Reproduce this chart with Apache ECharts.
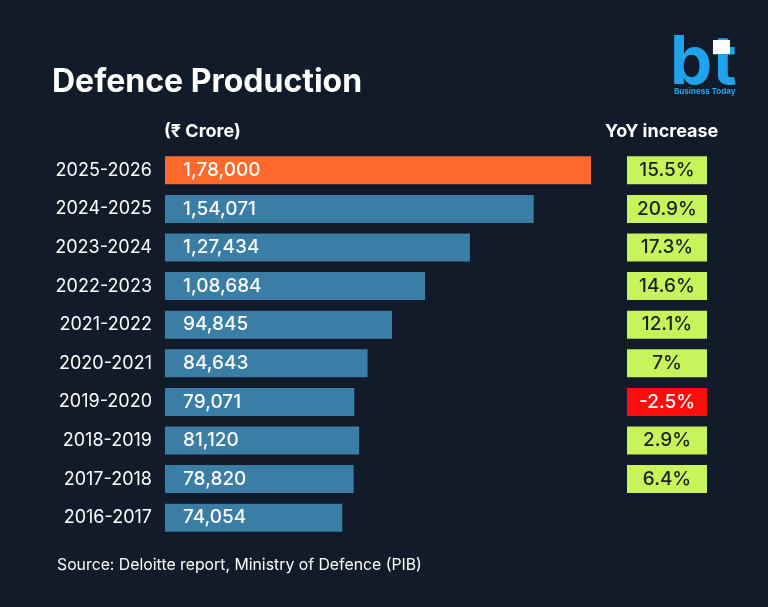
<!DOCTYPE html>
<html>
<head>
<meta charset="utf-8">
<script src="https://cdn.jsdelivr.net/npm/echarts@6/dist/echarts.min.js"></script>
<style>
  html, body { margin: 0; padding: 0; background: #111b29; }
  #chart { width: 768px; height: 607px; }
</style>
</head>
<body>
<div id="chart"></div>
<script>
const years = ["2025-2026", "2024-2025", "2023-2024", "2022-2023", "2021-2022",
               "2020-2021", "2019-2020", "2018-2019", "2017-2018", "2016-2017"]
const production = [178000, 154071, 127434, 108684, 94845, 84643, 79071, 81120, 78820, 74054]
const yoy = [15.5, 20.9, 17.3, 14.6, 12.1, 7, -2.5, 2.9, 6.4, null]

const FONT = "Inter, 'Noto Sans', sans-serif"

// Indian digit grouping: 1,78,000
function inr(n) {
    const s = String(n)
    if (s.length <= 3) return s
    const last3 = s.slice(-3)
    let rest = s.slice(0, -3)
    const parts = []
    while (rest.length > 2) {
        parts.unshift(rest.slice(-2))
        rest = rest.slice(0, -2)
    }
    if (rest) parts.unshift(rest)
    return parts.join(",") + "," + last3
}

const chart = echarts.init(document.getElementById("chart"))

const option = {
    backgroundColor: "#111b29",
    animation: false,
    textStyle: { fontFamily: FONT },
    grid: [
        { left: 165, right: 177, top: 151, height: 386 },
        { left: 627, width: 80, top: 151, height: 386 }
    ],
    xAxis: [
        { gridIndex: 0, type: "value", min: 0, max: 178000, show: false },
        { gridIndex: 1, type: "value", min: 0, max: 1, show: false }
    ],
    yAxis: [
        {
            gridIndex: 0,
            type: "category",
            inverse: true,
            data: years,
            axisLine: { show: false },
            axisTick: { show: false },
            axisLabel: { color: "#ffffff", fontSize: 18, margin: 13, fontFamily: FONT }
        },
        {
            gridIndex: 1,
            type: "category",
            inverse: true,
            data: years,
            show: false
        }
    ],
    series: [
        {
            type: "bar",
            xAxisIndex: 0,
            yAxisIndex: 0,
            barWidth: 28,
            data: production.map((v, i) => ({
                value: v,
                itemStyle: { color: i === 0 ? "#fe6a2c" : "#3a7ea6" }
            })),
            label: {
                show: true,
                position: "insideLeft",
                distance: 18,
                color: "#ffffff",
                fontSize: 19,
                fontWeight: 500,
                fontFamily: FONT,
                formatter: (p) => inr(p.value)
            }
        },
        {
            type: "bar",
            xAxisIndex: 1,
            yAxisIndex: 1,
            barWidth: 28,
            data: yoy.map((v) => v === null ? null : ({
                value: 1,
                itemStyle: { color: v < 0 ? "#ff0d0d" : "#c6f45a" },
                label: { color: v < 0 ? "#ffffff" : "#18202a" }
            })),
            label: {
                show: true,
                position: "inside",
                fontSize: 19,
                fontWeight: 500,
                fontFamily: FONT,
                formatter: (p) => yoy[p.dataIndex] + "%"
            }
        }
    ],
    graphic: [
        {
            type: "text", left: 52, top: 66,
            style: { text: "Defence Production", fill: "#ffffff", font: "bold 32px " + FONT }
        },
        {
            type: "text", left: 164, top: 123,
            style: { text: "(₹ Crore)", fill: "#ffffff", font: "bold 18px " + FONT }
        },
        {
            type: "text", left: 605, top: 123,
            style: { text: "YoY increase", fill: "#ffffff", font: "bold 18px " + FONT }
        },
        {
            type: "text", left: 57, top: 557,
            style: { text: "Source: Deloitte report, Ministry of Defence (PIB)", fill: "#ffffff", font: "15.8px " + FONT }
        },
        // Business Today logo
        {
            type: "text", left: 670, top: 30,
            style: { text: "bt", fill: "#1ea3ec", font: "bold 67px " + FONT }
        },
        {
            type: "rect", shape: { x: 713, y: 40, width: 17, height: 14 },
            style: { fill: "#ffffff" }
        },
        {
            type: "text", left: 674, top: 88,
            style: { text: "Business Today", fill: "#1ea3ec", font: "bold 8px " + FONT }
        }
    ]
}

chart.setOption(option)
</script>
</body>
</html>
